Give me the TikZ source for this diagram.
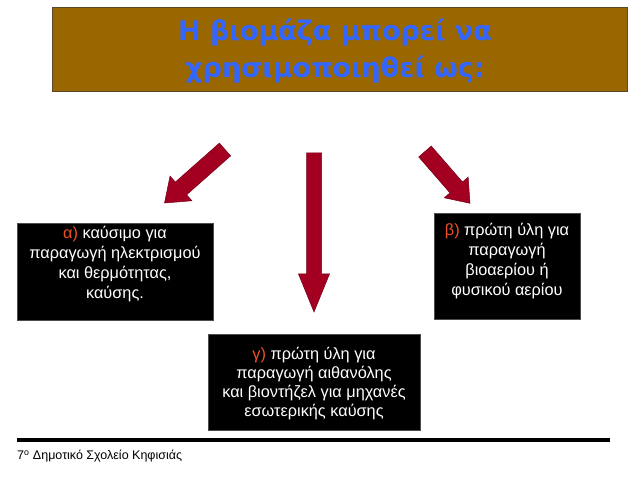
\documentclass[tikz,border=0pt]{standalone}
\usepackage{fontspec}
\setmainfont{Liberation Sans}
\newfontfamily\titlefont{DejaVu Sans}
\usetikzlibrary{calc}
\definecolor{titlebg}{RGB}{153,102,0}
\definecolor{titleedge}{RGB}{90,70,40}
\definecolor{titleblue}{RGB}{51,102,255}
\definecolor{arrowred}{RGB}{163,0,33}
\definecolor{arrowedge}{RGB}{120,0,25}
\definecolor{labelred}{RGB}{240,80,40}
\tikzset{
  bigarrow/.style={fill=arrowred, draw=arrowedge, line width=0.5pt, line join=miter},
  blackbox/.style={fill=black, draw=black!70, line width=0.6pt, inner sep=0pt},
  boxtext/.style={text=white, align=center, font=\fontsize{16.3}{20}\selectfont, inner sep=0pt},
  titletext/.style={text=titleblue, align=center, font=\titlefont\bfseries\fontsize{27}{37}\selectfont, inner sep=0pt},
}
\newcommand\lbl[1]{\textcolor{labelred}{#1}}
\newcommand\fatarrow[5]{%
  \coordinate (#2-h) at ($(#2)!#5!(#1)$);
  \filldraw[bigarrow] (#2) -- ($(#2-h)!#4!90:(#1)$) -- ($(#2-h)!#3!90:(#1)$)
    -- ($(#1)!#3!-90:(#2-h)$) -- ($(#1)!#3!90:(#2-h)$)
    -- ($(#2-h)!#3!-90:(#1)$) -- ($(#2-h)!#4!-90:(#1)$) -- cycle;}
\begin{document}
\begin{tikzpicture}[x=1pt,y=-1pt]
\useasboundingbox[fill=white] (0,0) rectangle (638,478);
% title
\node[fill=titlebg, draw=titleedge, line width=1pt, minimum width=575pt, minimum height=84pt, inner sep=0pt] (titlebox) at (339.5,49.5) {};
\node[titletext] (title) at (335,51) {Η βιομάζα μπορεί να\\χρησιμοποιηθεί ως:};
% boxes
\node[blackbox, minimum width=196pt, minimum height=97pt] (abox) at (115,271.5) {};
\node[boxtext] (atext) at (115,264) {\lbl{α)} καύσιμο για\\παραγωγή ηλεκτρισμού\\και θερμότητας,\\καύσης.};
\node[blackbox, minimum width=146pt, minimum height=106pt] (bbox) at (507,266) {};
\node[boxtext] (btext) at (507,261) {\lbl{β)} πρώτη ύλη για\\παραγωγή\\βιοαερίου ή\\φυσικού αερίου};
\node[blackbox, minimum width=212pt, minimum height=96pt] (cbox) at (314,382) {};
\node[boxtext, font=\fontsize{16.3}{19}\selectfont] (ctext) at (314,384) {\lbl{γ)} πρώτη ύλη για\\παραγωγή αιθανόλης\\και βιοντήζελ για μηχανές\\εσωτερικής καύσης};
% arrows
\coordinate (ltail) at (225,149.5);
\coordinate (ltip) at (164.5,203);
\coordinate (mtail) at (314,153);
\coordinate (mtip) at (314,312);
\coordinate (rtail) at (425,151.5);
\coordinate (rtip) at (470,203.3);
\fatarrow{ltail}{ltip}{8.5pt}{16.5pt}{22pt}
\fatarrow{mtail}{mtip}{7.5pt}{15.5pt}{38pt}
\fatarrow{rtail}{rtip}{8.3pt}{15.8pt}{21pt}
% footer
\coordinate (fl) at (17,440);
\coordinate (fr) at (610,440);
\draw[line width=4pt] (fl) -- (fr);
\node[anchor=west, inner sep=0pt, font=\fontsize{12.5}{14}\selectfont] (footer) at (17,456) {7\textsuperscript{ο} Δημοτικό Σχολείο Κηφισιάς};
\end{tikzpicture}
\end{document}
